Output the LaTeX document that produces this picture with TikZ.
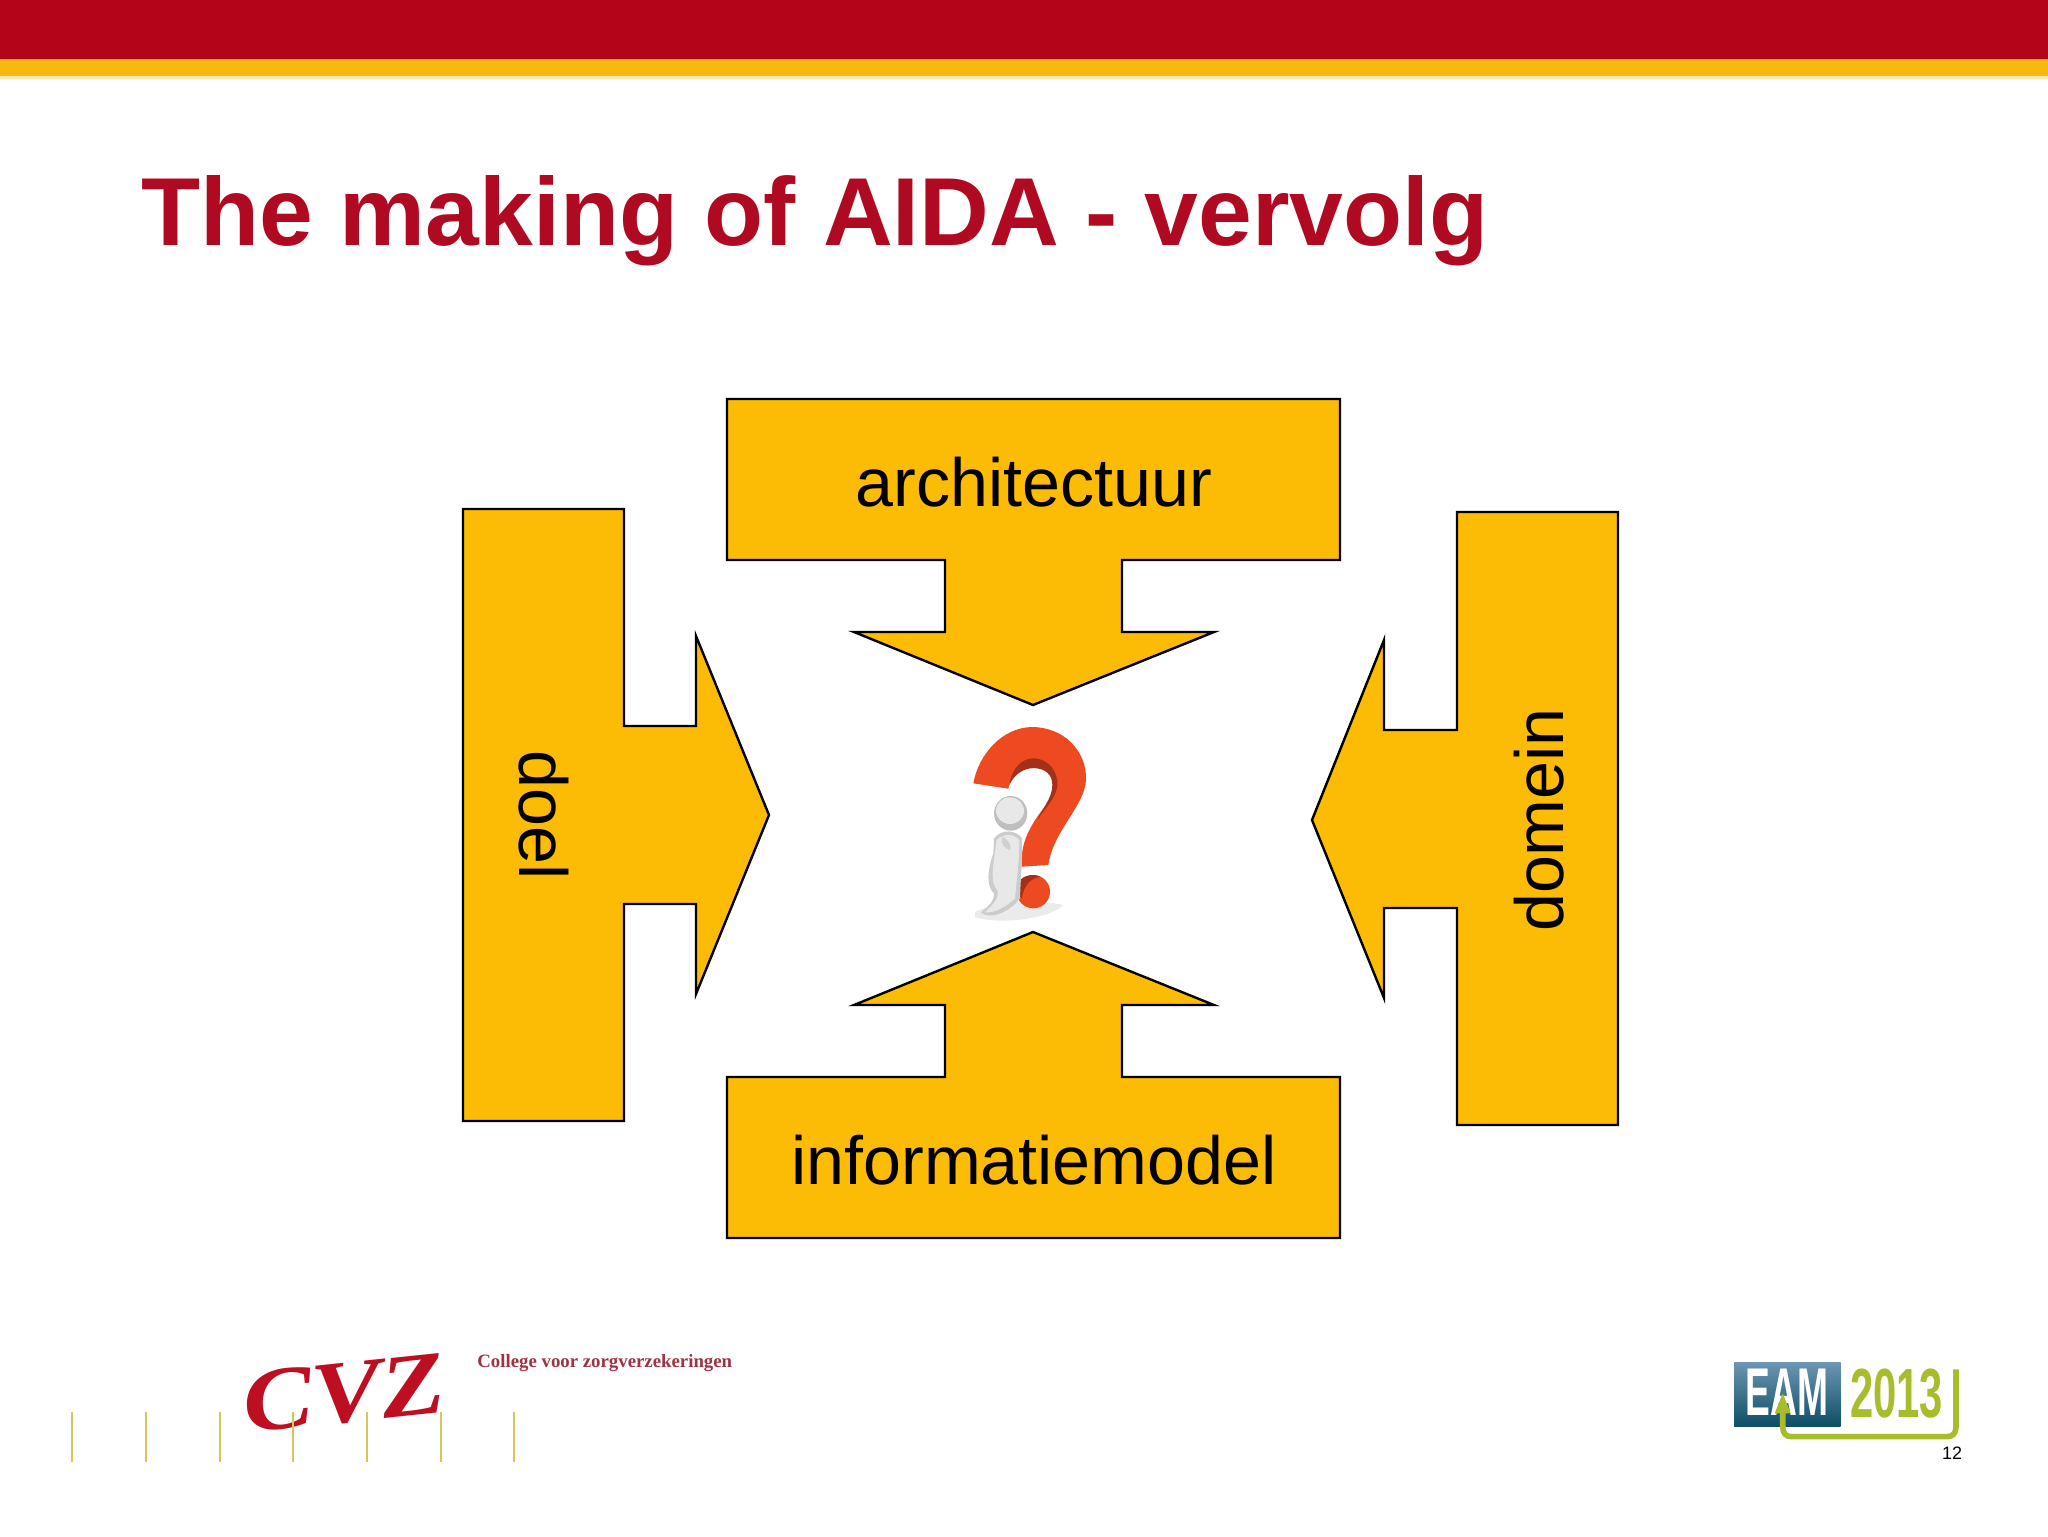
\documentclass[tikz,border=0pt]{standalone}
\usepackage{fontspec}
\setmainfont{Liberation Sans}
\newfontfamily\cvzfont{Liberation Serif}
\newcommand{\fs}[1]{\fontsize{#1}{#1}\selectfont}
\definecolor{barred}{HTML}{B30519}
\definecolor{bargold}{HTML}{F7B90F}
\definecolor{arrowgold}{HTML}{FCBB04}
\definecolor{titlered}{HTML}{B00A23}
\definecolor{cvzred}{HTML}{BE0E22}
\definecolor{tick}{HTML}{D9C65A}
\definecolor{eamgreen}{HTML}{A9BC2C}
\definecolor{eamtop}{HTML}{6D96B3}
\definecolor{eambottom}{HTML}{0E4E66}
\definecolor{qred}{HTML}{EE4A22}
\definecolor{qdark}{HTML}{A5301A}
\tikzset{
  blockarrow/.style={draw=black,fill=arrowgold,line width=1.2pt,line join=miter},
  blocklabel/.style={anchor=base,inner sep=0pt,font=\fs{34.1},text=black},
  ticksty/.style={draw=tick,line width=1.4pt},
}
\begin{document}
\begin{tikzpicture}[x=0.5pt,y=-0.5pt]
\useasboundingbox (0,0) rectangle (2048,1536);
\fill[white] (0,0) rectangle (2048,1536);
% header
\fill[barred] (0,0) rectangle (2048,59);
\fill[bargold] (0,59) rectangle (2048,76);
\fill[bargold!35] (0,76) rectangle (2048,79);
% title
\node[anchor=base west,inner sep=0pt,font=\fs{48.3}\bfseries,text=titlered] (title) at (141,245) {The making of AIDA - vervolg};
% arrows
\draw[blockarrow] (727,399) -- (1340,399) -- (1340,560) -- (1122,560) -- (1122,632) -- (1214,632) -- (1033,705) -- (854,632) -- (945,632) -- (945,560) -- (727,560) -- cycle;
\draw[blockarrow] (727,1238) -- (1340,1238) -- (1340,1077) -- (1122,1077) -- (1122,1005) -- (1214,1005) -- (1033,932) -- (854,1005) -- (945,1005) -- (945,1077) -- (727,1077) -- cycle;
\draw[blockarrow] (463,509) -- (624,509) -- (624,726) -- (696,726) -- (696,636) -- (769,815) -- (696,994) -- (696,904) -- (624,904) -- (624,1121) -- (463,1121) -- cycle;
\draw[blockarrow] (1618,512) -- (1457,512) -- (1457,730) -- (1384,730) -- (1384,640) -- (1312,820) -- (1384,998) -- (1384,908) -- (1457,908) -- (1457,1125) -- (1618,1125) -- cycle;
% labels
\node[blocklabel] (architectuur) at (1034,506) {architectuur};
\node[blocklabel] (informatiemodel) at (1034,1184) {informatiemodel};
\node[blocklabel,rotate=-90] (doel) at (519,815) {doel};
\node[blocklabel,rotate=90] (domein) at (1563,820) {domein};
% question figure, drawn in zoom coordinates
\begin{scope}[shift={(920,690)},x=0.16667pt,y=-0.16667pt]
  \fill[black!8] (165,665) .. controls (250,630) and (340,625) .. (430,645) .. controls (390,685) and (250,705) .. (165,682) -- cycle;
  \fill[qred] (160,280) .. controls (175,195) and (245,113) .. (335,111) .. controls (430,111) and (498,180) .. (498,265) .. controls (498,345) and (400,420) .. (385,525) -- (305,530) .. controls (300,440) and (345,390) .. (392,325) .. controls (415,295) and (415,265) .. (395,240) .. controls (375,205) and (310,195) .. (285,240) .. controls (275,260) and (268,280) .. (265,296) -- cycle;
  \fill[qdark] (268,285) .. controls (275,230) and (310,203) .. (345,205) .. controls (385,208) and (415,245) .. (412,285) .. controls (410,320) and (380,350) .. (350,392) .. controls (375,345) and (405,310) .. (395,270) .. controls (385,225) and (300,215) .. (268,285) -- cycle;
  \fill[qred] (340,605) circle[radius=50];
  \fill[qdark] (297,575) .. controls (310,555) and (340,550) .. (360,560) .. controls (330,565) and (310,590) .. (305,625) .. controls (290,615) and (290,590) .. (297,575) -- cycle;
  % figure
  \fill[black!20] (222,445) .. controls (245,415) and (290,420) .. (306,445) .. controls (308,510) and (302,560) .. (300,625) .. controls (275,660) and (215,692) .. (183,668) .. controls (200,650) and (222,640) .. (222,610) .. controls (198,590) and (202,540) .. (220,490) -- cycle;
  \fill[black!9] (230,450) .. controls (250,430) and (280,430) .. (298,450) .. controls (298,510) and (290,570) .. (285,625) .. controls (258,650) and (225,670) .. (195,667) .. controls (215,645) and (238,630) .. (232,600) .. controls (208,580) and (220,520) .. (230,450) -- cycle;
  \fill[black!18] (248,440) .. controls (262,450) and (278,465) .. (270,480) .. controls (255,477) and (238,460) .. (248,440) -- cycle;
  \fill[black!25] (272,370) circle[x radius=50,y radius=52];
  \fill[black!9] (270,362) circle[x radius=42,y radius=40];
\end{scope}
% CVZ logo
\node[inner sep=0pt,rotate=6,xscale=1.16,font=\fs{45}\cvzfont\bfseries\itshape,text=cvzred] (cvz) at (344,1393) {CVZ};
\node[anchor=base west,inner sep=0pt,font=\fs{9.4}\cvzfont\bfseries,text=titlered!65!gray] (college) at (477,1367) {College voor zorgverzekeringen};
\foreach \x in {72,146,220,293,367,441,514}
  \draw[ticksty] (\x,1412) -- (\x,1462);
% EAM logo, in zoom coordinates
\begin{scope}[shift={(1680,1330)},x=0.16667pt,y=-0.16667pt]
  \shade[top color=eamtop,bottom color=eambottom] (162,96) rectangle (482,288);
  \node[inner sep=0pt,font=\fs{33.8}\bfseries,text=white,xscale=0.55] (eam) at (320,188) {EAM};
  \node[inner sep=0pt,font=\fs{34.8}\bfseries,text=eamgreen,xscale=0.6] (year) at (650,190) {2013};
  \draw[eamgreen,line width=2.8pt] (828,118) -- (828,290) .. controls (828,310) and (818,320) .. (800,320) -- (335,320) .. controls (318,320) and (308,310) .. (308,290) -- (308,240);
  \fill[eamgreen] (308,190) -- (332,250) -- (284,250) -- cycle;
\end{scope}
\node[inner sep=0pt,font=\fs{9},text=black] (pagenum) at (1952,1453) {12};
\end{tikzpicture}
\end{document}
